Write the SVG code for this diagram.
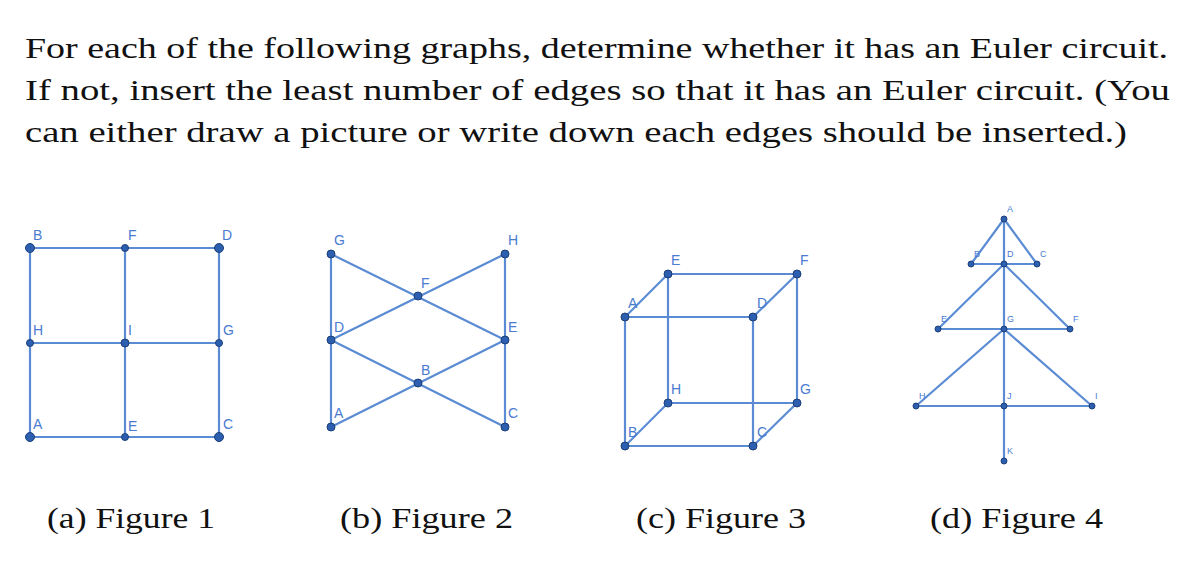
<svg xmlns="http://www.w3.org/2000/svg" width="1188" height="574" viewBox="0 0 1188 574">
<style>
.t{font-family:"Liberation Serif",serif;font-size:30px;fill:#111}
.c{font-family:"Liberation Serif",serif;font-size:29px;fill:#111}
.e line{stroke:#5b8bd3;stroke-width:2.2}
.n circle{fill:#2d5fb0;stroke:#1c3f78;stroke-width:1}
.l{font-family:"Liberation Sans",Arial,sans-serif;font-size:14px;fill:#4a7bd0}
.s{font-size:9px}
</style>
<rect width="1188" height="574" fill="#fff"/>
<text class="t" x="25" y="58" textLength="1143" lengthAdjust="spacingAndGlyphs">For each of the following graphs, determine whether it has an Euler circuit.</text>
<text class="t" x="25" y="100" textLength="1145" lengthAdjust="spacingAndGlyphs">If not, insert the least number of edges so that it has an Euler circuit. (You</text>
<text class="t" x="25" y="142" textLength="1102" lengthAdjust="spacingAndGlyphs">can either draw a picture or write down each edges should be inserted.)</text>

<g id="connectors" class="e">
<line x1="30" y1="248" x2="219" y2="248"/><line x1="30" y1="343" x2="219" y2="343"/><line x1="30" y1="437" x2="219" y2="437"/>
<line x1="30" y1="248" x2="30" y2="437"/><line x1="125" y1="248" x2="125" y2="437"/><line x1="219" y1="248" x2="219" y2="437"/>
<line x1="331" y1="254" x2="331" y2="427"/><line x1="505" y1="254" x2="505" y2="427"/>
<line x1="331" y1="254" x2="505" y2="340"/><line x1="505" y1="254" x2="331" y2="340"/>
<line x1="331" y1="340" x2="505" y2="427"/><line x1="505" y1="340" x2="331" y2="427"/>
<line x1="625" y1="317" x2="753" y2="317"/><line x1="625" y1="446" x2="753" y2="446"/><line x1="625" y1="317" x2="625" y2="446"/><line x1="753" y1="317" x2="753" y2="446"/>
<line x1="668" y1="274" x2="797" y2="274"/><line x1="668" y1="403" x2="797" y2="403"/><line x1="668" y1="274" x2="668" y2="403"/><line x1="797" y1="274" x2="797" y2="403"/>
<line x1="625" y1="317" x2="668" y2="274"/><line x1="753" y1="317" x2="797" y2="274"/><line x1="625" y1="446" x2="668" y2="403"/><line x1="753" y1="446" x2="797" y2="403"/>
<line x1="1004" y1="219" x2="1004" y2="461"/><line x1="1004" y1="219" x2="971" y2="264"/><line x1="1004" y1="219" x2="1037" y2="264"/>
<line x1="971" y1="264" x2="1037" y2="264"/><line x1="1004" y1="264" x2="938" y2="329"/><line x1="1004" y1="264" x2="1070" y2="329"/>
<line x1="938" y1="329" x2="1070" y2="329"/><line x1="1004" y1="329" x2="916" y2="406"/><line x1="1004" y1="329" x2="1092" y2="406"/>
<line x1="916" y1="406" x2="1092" y2="406"/>
</g>

<g id="fig1" class="n">
<g id="n1B"><circle cx="30" cy="248" r="4.5"/><text class="l" x="33" y="240">B</text></g>
<g id="n1F"><circle cx="125" cy="248" r="3.5"/><text class="l" x="128" y="240">F</text></g>
<g id="n1D"><circle cx="219" cy="248" r="4.5"/><text class="l" x="222" y="240">D</text></g>
<g id="n1H"><circle cx="30" cy="343" r="3.5"/><text class="l" x="33" y="335">H</text></g>
<g id="n1I"><circle cx="125" cy="343" r="4"/><text class="l" x="128" y="335">I</text></g>
<g id="n1G"><circle cx="219" cy="343" r="3.5"/><text class="l" x="223" y="335">G</text></g>
<g id="n1A"><circle cx="30" cy="437" r="4.5"/><text class="l" x="33" y="429">A</text></g>
<g id="n1E"><circle cx="125" cy="437" r="3.5"/><text class="l" x="128" y="431">E</text></g>
<g id="n1C"><circle cx="219" cy="437" r="4.5"/><text class="l" x="223" y="429">C</text></g>
</g>
<g id="fig2" class="n">
<g id="n2G"><circle cx="331" cy="254" r="4"/><text class="l" x="334" y="245">G</text></g>
<g id="n2H"><circle cx="505" cy="254" r="4"/><text class="l" x="508" y="245">H</text></g>
<g id="n2F"><circle cx="418" cy="296" r="4"/><text class="l" x="421" y="288">F</text></g>
<g id="n2D"><circle cx="331" cy="340" r="4"/><text class="l" x="334" y="332">D</text></g>
<g id="n2E"><circle cx="505" cy="340" r="4"/><text class="l" x="508" y="332">E</text></g>
<g id="n2B"><circle cx="418" cy="383" r="4"/><text class="l" x="421" y="375">B</text></g>
<g id="n2A"><circle cx="331" cy="427" r="4"/><text class="l" x="334" y="418">A</text></g>
<g id="n2C"><circle cx="505" cy="427" r="4"/><text class="l" x="508" y="418">C</text></g>
</g>
<g id="fig3" class="n">
<g id="n3E"><circle cx="668" cy="274" r="4"/><text class="l" x="671" y="265">E</text></g>
<g id="n3F"><circle cx="797" cy="274" r="4"/><text class="l" x="800" y="265">F</text></g>
<g id="n3A"><circle cx="625" cy="317" r="4"/><text class="l" x="628" y="308">A</text></g>
<g id="n3D"><circle cx="753" cy="317" r="4"/><text class="l" x="757" y="308">D</text></g>
<g id="n3H"><circle cx="668" cy="403" r="4"/><text class="l" x="671" y="394">H</text></g>
<g id="n3G"><circle cx="797" cy="403" r="4"/><text class="l" x="800" y="394">G</text></g>
<g id="n3B"><circle cx="625" cy="446" r="4"/><text class="l" x="628" y="437">B</text></g>
<g id="n3C"><circle cx="753" cy="446" r="4"/><text class="l" x="757" y="437">C</text></g>
</g>
<g id="fig4" class="n">
<g id="n4A"><circle cx="1004" cy="219" r="3"/><text class="l s" x="1007" y="212">A</text></g>
<g id="n4B"><circle cx="971" cy="264" r="3"/><text class="l s" x="974" y="257">B</text></g>
<g id="n4D"><circle cx="1004" cy="264" r="3"/><text class="l s" x="1007" y="257">D</text></g>
<g id="n4C"><circle cx="1037" cy="264" r="3"/><text class="l s" x="1040" y="257">C</text></g>
<g id="n4E"><circle cx="938" cy="329" r="3"/><text class="l s" x="941" y="322">E</text></g>
<g id="n4G"><circle cx="1004" cy="329" r="3"/><text class="l s" x="1007" y="322">G</text></g>
<g id="n4F"><circle cx="1070" cy="329" r="3"/><text class="l s" x="1073" y="322">F</text></g>
<g id="n4H"><circle cx="916" cy="406" r="3"/><text class="l s" x="919" y="399">H</text></g>
<g id="n4J"><circle cx="1004" cy="406" r="3"/><text class="l s" x="1007" y="399">J</text></g>
<g id="n4I"><circle cx="1092" cy="406" r="3"/><text class="l s" x="1095" y="399">I</text></g>
<g id="n4K"><circle cx="1004" cy="461" r="3"/><text class="l s" x="1007" y="454">K</text></g>
</g>
<text class="c" x="47" y="528" textLength="168" lengthAdjust="spacingAndGlyphs">(a) Figure 1</text>
<text class="c" x="340" y="528" textLength="173" lengthAdjust="spacingAndGlyphs">(b) Figure 2</text>
<text class="c" x="636" y="528" textLength="170" lengthAdjust="spacingAndGlyphs">(c) Figure 3</text>
<text class="c" x="930" y="528" textLength="173" lengthAdjust="spacingAndGlyphs">(d) Figure 4</text>
</svg>
